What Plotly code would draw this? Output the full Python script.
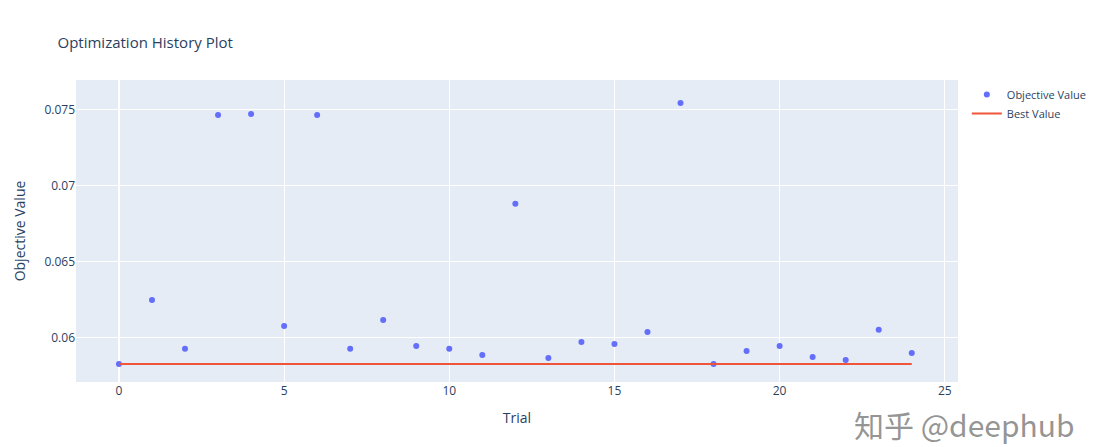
import plotly.graph_objects as go

trials = list(range(25))
objective = [0.05829, 0.0625, 0.05928, 0.07467, 0.07474, 0.06079, 0.07467, 0.05928, 0.06118, 0.05947,
             0.05928, 0.05888, 0.06882, 0.05868, 0.05974, 0.0596, 0.06039, 0.07546, 0.05829, 0.05914,
             0.05947, 0.05875, 0.05855, 0.06053, 0.05901]
best = []
m = None
for v in objective:
    m = v if m is None else min(m, v)
    best.append(m)

fig = go.Figure()
fig.add_trace(go.Scatter(x=trials, y=objective, mode="markers", name="Objective Value",
                         marker=dict(color="#636efa", size=6)))
fig.add_trace(go.Scatter(x=trials, y=best, mode="lines", name="Best Value",
                         line=dict(color="#ef553b", width=2)))
fig.update_layout(
    width=1100, height=447, template="plotly",
    title=dict(text="Optimization History Plot", x=0.045, y=0.935, font=dict(size=15)),
    margin=dict(l=62, r=150, t=72, b=73),
    xaxis=dict(title=dict(text="Trial"), range=[-1.3, 25.4], dtick=5),
    yaxis=dict(title=dict(text="Objective Value"), range=[0.0571, 0.07697], dtick=0.005),
    legend=dict(x=1.01, y=1.0, font=dict(size=11)),
    font=dict(family="Open Sans, Noto Sans, sans-serif", size=12),
)
fig.add_annotation(text="知乎 @deephub", xref="paper", yref="paper", x=1.135, y=-0.14,
                   xanchor="right", yanchor="middle", showarrow=False,
                   font=dict(size=30, color="rgba(120,120,120,0.8)", family="Noto Sans CJK SC"))
fig.write_html("out.html")
